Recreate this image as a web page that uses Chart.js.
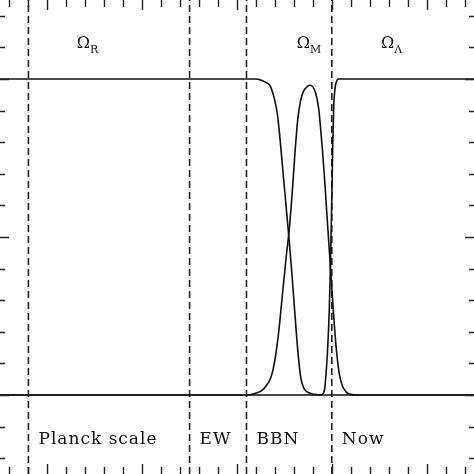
<!DOCTYPE html>
<html>
<head>
<meta charset="utf-8">
<script src="https://cdn.jsdelivr.net/npm/chart.js@4"></script>
<style>
  html, body { margin: 0; padding: 0; background: #fff; }
  #chart { display: block; }
</style>
</head>
<body>
<canvas id="chart" width="474" height="474"></canvas>
<script>
// density parameters (x in arbitrary log-time units)
const radX = [-2.5, 0.2, 0.25, 0.3, 0.35, 0.4, 0.43, 0.46, 0.49, 0.52, 0.55, 0.58, 0.61, 0.64, 0.67, 0.7, 0.73, 0.78, 0.85, 0.9, 2.5];
const radY = [1, 1, 0.997, 0.99, 0.978, 0.93, 0.88, 0.79, 0.69, 0.59, 0.49, 0.38, 0.26, 0.145, 0.06, 0.025, 0.012, 0.005, 0.001, 0, 0];

const matX = [-2.5, 0.12, 0.17, 0.22, 0.27, 0.31, 0.35, 0.38, 0.41, 0.44, 0.47, 0.5, 0.52, 0.55, 0.58, 0.61, 0.64, 0.67, 0.7, 0.74, 0.77, 0.8, 0.83, 0.86, 0.88, 0.9, 0.92, 0.94, 0.96, 0.98, 1.0, 1.02, 1.04, 1.06, 1.08, 1.11, 1.15, 1.2, 1.26, 2.5];
const matY = [0, 0, 0.003, 0.008, 0.016, 0.03, 0.05, 0.08, 0.13, 0.2, 0.29, 0.38, 0.44, 0.52, 0.63, 0.76, 0.87, 0.93, 0.96, 0.976, 0.98, 0.975, 0.955, 0.91, 0.85, 0.78, 0.7, 0.61, 0.52, 0.43, 0.34, 0.25, 0.17, 0.11, 0.065, 0.03, 0.01, 0.002, 0, 0];

const lamX = [-2.5, 0.88, 0.91, 0.925, 0.94, 0.955, 0.97, 0.98, 0.99, 1.0, 1.01, 1.02, 1.035, 1.05, 1.07, 2.5];
const lamY = [0, 0, 0.005, 0.02, 0.07, 0.14, 0.24, 0.34, 0.47, 0.62, 0.79, 0.91, 0.972, 0.992, 1, 1];

const epochX = [-2.2, -0.5, 0.1, 1.0];
const epochLabels = ['Planck scale', 'EW', 'BBN', 'Now'];

const omegaX = [-1.69, 0.63, 1.52];
const omegaSubs = ['R', 'M', 'Λ'];

const xMin = -2.5, xMax = 2.5, yMin = -0.25, yMax = 1.25;

function toPoints(xs, ys) {
  return xs.map((x, i) => ({ x: x, y: ys[i] }));
}

function curve(xs, ys) {
  return {
    data: toPoints(xs, ys),
    borderColor: '#111',
    borderWidth: 1.6,
    pointRadius: 0,
    cubicInterpolationMode: 'monotone',
    fill: false
  };
}

function dashed(x) {
  return {
    data: [{ x: x, y: yMin }, { x: x, y: yMax }],
    borderColor: '#222',
    borderWidth: 1.6,
    borderDash: [7, 4],
    pointRadius: 0,
    fill: false
  };
}

// tick marks drawn inside the frame + text labels
const decorations = {
  id: 'decorations',
  afterDatasetsDraw(chart) {
    const ctx = chart.ctx, a = chart.chartArea;
    const xs = chart.scales.x, ys = chart.scales.y;
    ctx.save();
    ctx.strokeStyle = '#222';
    ctx.lineWidth = 1.4;
    ctx.beginPath();
    for (let i = -24; i <= 24; i += 2) {
      const px = Math.round(xs.getPixelForValue(i / 10)) + 0.5;
      const len = i % 10 === 0 ? 10 : 7;
      ctx.moveTo(px, a.top); ctx.lineTo(px, a.top + len);
      ctx.moveTo(px, a.bottom); ctx.lineTo(px, a.bottom - len);
    }
    for (let i = -2; i <= 12; i++) {
      const py = Math.round(ys.getPixelForValue(i / 10)) + 0.5;
      const len = i % 5 === 0 ? 9 : 5;
      ctx.moveTo(a.left, py); ctx.lineTo(a.left + len, py);
      ctx.moveTo(a.right, py); ctx.lineTo(a.right - len, py);
    }
    ctx.stroke();

    ctx.fillStyle = '#111';
    ctx.textBaseline = 'alphabetic';
    ctx.font = '17px "DejaVu Serif"';
    ctx.letterSpacing = '1px';
    const ly = ys.getPixelForValue(-0.155);
    epochLabels.forEach((t, i) => {
      ctx.fillText(t, xs.getPixelForValue(epochX[i]) + 10, ly);
    });
    ctx.letterSpacing = '0px';

    const oy = ys.getPixelForValue(1.098);
    omegaX.forEach((x, i) => {
      const px = xs.getPixelForValue(x);
      ctx.font = '16px "DejaVu Serif"';
      ctx.fillText('Ω', px, oy);
      const w = ctx.measureText('Ω').width;
      ctx.font = '11px "DejaVu Serif"';
      ctx.fillText(omegaSubs[i], px + w, oy + 5);
    });
    ctx.restore();
  }
};

new Chart(document.getElementById('chart'), {
  type: 'line',
  data: {
    datasets: [
      curve(radX, radY),
      curve(matX, matY),
      curve(lamX, lamY),
      ...epochX.map(dashed)
    ]
  },
  options: {
    responsive: false,
    animation: false,
    layout: { padding: 0 },
    plugins: {
      legend: { display: false },
      tooltip: { enabled: false }
    },
    scales: {
      x: { type: 'linear', min: xMin, max: xMax, display: false },
      y: { type: 'linear', min: yMin, max: yMax, display: false }
    }
  },
  plugins: [decorations]
});
</script>
</body>
</html>
